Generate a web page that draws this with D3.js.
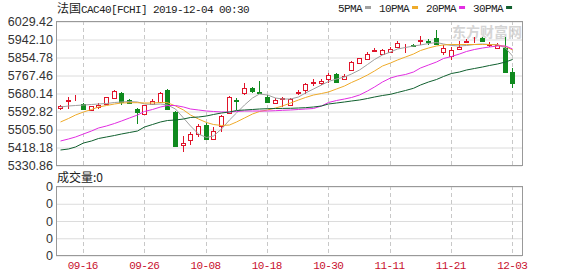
<!DOCTYPE html>
<html>
<head>
<meta charset="utf-8">
<script src="https://cdn.jsdelivr.net/npm/d3@7"></script>
<style>
body { margin: 0; background: #fff; }
</style>
</head>
<body>
<script>
const dates = [
	'09-11', '09-12', '09-13', '09-16', '09-17', '09-18', '09-19', '09-20', '09-23', '09-24', '09-25', '09-26', '09-27', '09-30',
	'10-01', '10-02', '10-03', '10-04', '10-07', '10-08', '10-09', '10-10', '10-11', '10-14', '10-15', '10-16', '10-17', '10-18',
	'10-21', '10-22', '10-23', '10-24', '10-25', '10-28', '10-29', '10-30', '10-31',
	'11-01', '11-04', '11-05', '11-06', '11-07', '11-08', '11-11', '11-12', '11-13', '11-14', '11-15', '11-18', '11-19', '11-20',
	'11-21', '11-22', '11-25', '11-26', '11-27', '11-28', '11-29',
	'12-02', '12-03'
];
const open = [
	5607, 5641, 5654, 5627, 5596, 5610, 5627, 5656, 5682, 5645,
	5603, 5578, 5627, 5638, 5694.7, 5589, 5430, 5452, 5481, 5525,
	5457, 5521.5, 5584.6, 5645, 5679, 5703, 5685, 5661, 5633, 5652,
	5620, 5679, 5694.7, 5730, 5730, 5749.5, 5773.8, 5750, 5790, 5824,
	5845, 5885, 5869, 5878, 5905, 5906, 5914, 5930, 5933, 5945.5,
	5880, 5861, 5896, 5928, 5935, 5948.4, 5914, 5897, 5897, 5783.5
];
const high = [
	5622, 5662, 5669, 5632, 5617, 5630, 5662, 5695, 5685, 5650,
	5605, 5622, 5650, 5685, 5701, 5592, 5471, 5492, 5530, 5535,
	5517, 5572, 5664, 5654, 5727, 5711, 5738, 5669, 5657, 5659,
	5656, 5693, 5730, 5747, 5747, 5776, 5779, 5772, 5835, 5852,
	5878, 5897, 5894, 5902, 5932, 5918, 5917, 5958, 5942, 5986,
	5913, 5905, 5932, 5942, 5953, 5950, 5926, 5921, 5953, 5800
];
const low = [
	5600, 5601, 5640, 5603, 5591, 5604, 5620, 5653, 5620, 5627,
	5531, 5574, 5624, 5636, 5597, 5421, 5393, 5428, 5465, 5450,
	5452, 5489, 5582, 5596, 5670, 5682, 5677, 5630, 5627, 5614,
	5617, 5669, 5675, 5714, 5718, 5727, 5727, 5743, 5785, 5819,
	5840, 5879, 5864, 5873, 5900, 5876, 5905, 5913, 5912, 5913,
	5864, 5840, 5889, 5921, 5921, 5927, 5905, 5894, 5782, 5703
];
const close = [
	5615, 5646, 5656, 5604, 5615, 5623, 5659, 5688, 5636.5, 5632,
	5588, 5620, 5643, 5680, 5602.5, 5424, 5436, 5483, 5521.5, 5458.5,
	5496, 5568.6, 5662, 5642, 5704.4, 5692, 5679, 5636.5, 5648, 5656,
	5652, 5685, 5724, 5733, 5736, 5767.5, 5732, 5762.6, 5829, 5848,
	5869.4, 5889, 5888.7, 5894, 5924, 5910, 5909, 5935, 5929, 5916,
	5900, 5889, 5902, 5932, 5939, 5932, 5917, 5913, 5783.5, 5727
];
// moving averages
const ma5 = [
	5612.2, 5617.1, 5619.5, 5621.9, 5624.4, 5626.8, 5629.2, 5634.0, 5636.5, 5638.9,
	5636.5, 5626.8, 5624.4, 5626.8, 5621.9, 5602.5, 5558.9, 5520.1, 5481.3, 5464.3,
	5471.6, 5505.5, 5549.2, 5583.1, 5621.9, 5655.9, 5675.3, 5670.4, 5655.9, 5651.0,
	5651.0, 5660.7, 5680.1, 5699.6, 5718.9, 5735.9, 5748.1, 5757.8, 5772.3, 5791.7,
	5818.4, 5842.6, 5864.5, 5879.0, 5893.6, 5900.9, 5908.2, 5913.0, 5920.3, 5925.1,
	5917.9, 5910.6, 5908.2, 5910.6, 5915.4, 5917.9, 5915.4, 5915.4, 5898.4, 5859.6
];
const ma10 = [
	5539.5, 5556.4, 5573.4, 5588.0, 5600.1, 5612.2, 5619.5, 5626.8, 5631.6, 5633.1,
	5633.1, 5631.6, 5631.6, 5634.0, 5633.1, 5617.1, 5597.7, 5573.4, 5554.0, 5537.0,
	5527.3, 5522.5, 5524.9, 5539.5, 5558.9, 5578.3, 5590.4, 5597.7, 5607.4, 5617.1,
	5631.6, 5646.2, 5658.3, 5670.4, 5677.7, 5685.0, 5699.6, 5714.1, 5731.1, 5748.1,
	5767.5, 5786.9, 5811.1, 5825.7, 5840.2, 5854.8, 5869.3, 5886.3, 5898.4, 5908.2,
	5913.0, 5915.4, 5915.4, 5915.4, 5915.4, 5915.4, 5915.4, 5913.0, 5905.7, 5888.7
];
const ma20 = [
	5447.3, 5457.0, 5466.7, 5481.3, 5495.8, 5510.4, 5520.1, 5532.2, 5544.3, 5558.9,
	5573.4, 5590.4, 5600.1, 5612.2, 5619.5, 5619.5, 5612.2, 5602.5, 5597.7, 5592.8,
	5590.4, 5588.0, 5588.0, 5590.4, 5592.8, 5592.8, 5592.8, 5592.8, 5594.3, 5596.2,
	5597.7, 5600.1, 5602.5, 5604.9, 5617.1, 5634.0, 5643.7, 5651.0, 5658.3, 5670.4,
	5689.9, 5709.2, 5733.5, 5752.9, 5762.6, 5769.9, 5782.0, 5801.4, 5816.0, 5830.5,
	5847.5, 5857.2, 5869.3, 5881.5, 5891.2, 5898.4, 5903.3, 5908.2, 5908.2, 5893.6
];
const ma30 = [
	5403.6, 5408.5, 5418.2, 5437.6, 5447.3, 5459.4, 5466.7, 5474.0, 5481.3, 5488.5,
	5495.8, 5515.2, 5527.3, 5539.5, 5546.7, 5549.2, 5554.0, 5561.3, 5563.7, 5568.6,
	5575.9, 5583.1, 5588.0, 5595.2, 5597.7, 5600.1, 5602.5, 5604.0, 5604.9, 5605.4,
	5605.9, 5607.4, 5608.9, 5612.2, 5617.1, 5626.8, 5631.6, 5636.5, 5641.3, 5646.2,
	5653.5, 5660.7, 5668.0, 5673.8, 5682.6, 5692.3, 5702.9, 5718.9, 5733.5, 5745.6,
	5760.2, 5774.8, 5782.0, 5791.7, 5799.0, 5806.3, 5813.6, 5820.8, 5830.5, 5842.6
];
const priceTicks = [5330.86, 5418.18, 5505.50, 5592.82, 5680.14, 5767.46, 5854.78, 5942.10, 6029.42];
const dateTicks = ['09-16', '09-26', '10-08', '10-18', '10-30', '11-11', '11-21', '12-03'];
const volTicks = [0, 1, 2, 3, 4];
const volLabels = ['0', '0', '0', '0', '0'];
const maNames = ['5PMA', '10PMA', '20PMA', '30PMA'];
const titleCn = '法国';
const titleEn = 'CAC40[FCHI] 2019-12-04 00:30';
const volTitle = '成交量:0';

const maColors = ['#a0a0a0', '#efab2a', '#e22ee2', '#11602f'];
const upColor = '#e0142a';
const downColor = '#0f8a1e';
const monoFont = '"Liberation Mono", monospace';
const sansFont = '"Liberation Sans", Arial, sans-serif';
const cjkFont = '"Noto Sans CJK SC", sans-serif';

let width = 578, height = 276;
let pLeft = 56, pRight = 522, pTop = 21, pBottom = 165;
let vTop = 186, vBottom = 255;

let svg = d3.select('body').append('svg').attr('width', width).attr('height', height)
	.style('font-family', sansFont);

let x = d3.scaleBand().domain(dates).range([ pLeft, 516 ]);
let y = d3.scaleLinear().domain([ priceTicks[0], priceTicks[priceTicks.length - 1] ]).range([ pBottom, pTop ]);
let vy = d3.scaleLinear().domain([ 0, volTicks.length - 1 ]).range([ vBottom, vTop ]);
let cx = (d) => Math.round(x(d) + x.bandwidth() / 2) + 0.5;

//price grid + labels
let yAxis = svg.append('g').attr('transform', 'translate(' + pLeft + ',0.5)')
	.call(d3.axisLeft(y).tickValues(priceTicks).tickSize(-(pRight - pLeft)).tickPadding(3).tickFormat(d3.format('.2f')));
yAxis.select('.domain').remove();
yAxis.selectAll('line').attr('stroke', '#dcdcdc');
yAxis.selectAll('text').attr('fill', '#333').style('font-size', '12.5px').style('font-family', sansFont);

//volume grid + labels
let vAxis = svg.append('g').attr('transform', 'translate(' + pLeft + ',0.5)')
	.call(d3.axisLeft(vy).tickValues(volTicks).tickSize(-(pRight - pLeft)).tickPadding(3).tickFormat((d, i) => volLabels[i]));
vAxis.select('.domain').remove();
vAxis.selectAll('line').attr('stroke', '#dcdcdc');
vAxis.selectAll('text').attr('fill', '#333').style('font-size', '12.5px').style('font-family', sansFont);

//dashed date lines in both panels
for (let d of dateTicks) {
	svg.append('line').attr('x1', cx(d)).attr('x2', cx(d)).attr('y1', pTop).attr('y2', pBottom)
		.attr('stroke', '#c8c8c8').attr('stroke-dasharray', '4,3');
	svg.append('line').attr('x1', cx(d)).attr('x2', cx(d)).attr('y1', vTop).attr('y2', vBottom)
		.attr('stroke', '#c8c8c8').attr('stroke-dasharray', '4,3');
}

//panel borders
svg.append('rect').attr('x', pLeft + 0.5).attr('y', pTop + 0.5).attr('width', pRight - pLeft).attr('height', pBottom - pTop)
	.attr('fill', 'none').attr('stroke', '#999');
svg.append('rect').attr('x', pLeft + 0.5).attr('y', vTop + 0.5).attr('width', pRight - pLeft).attr('height', vBottom - vTop)
	.attr('fill', 'none').attr('stroke', '#999');

//watermark
svg.append('text').attr('x', 452).attr('y', 37).text('东方财富网')
	.style('font-family', cjkFont).style('font-size', '14px').style('font-weight', 'bold')
	.attr('fill', '#c4c4c4').attr('opacity', 0.7);

//candles
let cg = svg.append('g');
for (let i = 0; i < dates.length; i++) {
	let up = close[i] >= open[i];
	let col = up ? upColor : downColor;
	let xc = cx(dates[i]);
	cg.append('line').attr('x1', xc).attr('x2', xc)
		.attr('y1', Math.round(y(high[i]))).attr('y2', Math.round(y(low[i])))
		.attr('stroke', col);
	let y0 = Math.round(y(Math.max(open[i], close[i])));
	let y1 = Math.round(y(Math.min(open[i], close[i])));
	cg.append('rect').attr('x', xc - 2).attr('y', y0 + 0.5)
		.attr('width', 4).attr('height', Math.max(y1 - y0, 0))
		.attr('fill', up ? '#fff' : col).attr('stroke', col);
}

//moving average lines
svg.append('clipPath').attr('id', 'plot').append('rect')
	.attr('x', pLeft).attr('y', pTop).attr('width', pRight - pLeft).attr('height', pBottom - pTop);
let line = d3.line().x((d, i) => cx(dates[i])).y((d) => y(d));
[ ma5, ma10, ma20, ma30 ].forEach((s, k) => {
	svg.append('path').attr('d', line(s)).attr('fill', 'none')
		.attr('stroke', maColors[k]).attr('stroke-width', 1).attr('clip-path', 'url(#plot)');
});

//date labels
let xAxis = svg.append('g').attr('transform', 'translate(0,' + vBottom + ')')
	.call(d3.axisBottom(x).tickValues(dateTicks).tickSize(0).tickPadding(6));
xAxis.select('.domain').remove();
xAxis.selectAll('text').attr('fill', '#c8102e').style('font-size', '11px')
	.style('font-family', monoFont).style('letter-spacing', '-0.6px');

//title
let title = svg.append('text').attr('x', 57).attr('y', 13).attr('fill', '#222');
title.append('tspan').text(titleCn).style('font-family', cjkFont).style('font-size', '12px');
title.append('tspan').text(titleEn).style('font-family', monoFont).style('font-size', '11px')
	.style('letter-spacing', '-0.6px');

//legend
let lx = 338;
maNames.forEach((name, k) => {
	let t = svg.append('text').attr('x', lx).attr('y', 12).text(name).attr('fill', '#222')
		.style('font-family', monoFont).style('font-size', '11px').style('letter-spacing', '-0.6px');
	let w = t.node().getComputedTextLength();
	svg.append('rect').attr('x', lx + w + 3).attr('y', 6).attr('width', 6).attr('height', 3).attr('fill', maColors[k]);
	lx += w + 3 + 6 + 8;
});

//volume title
svg.append('text').attr('x', 57).attr('y', 182).text(volTitle).attr('fill', '#222')
	.style('font-family', cjkFont).style('font-size', '12px');
</script>
</body>
</html>
